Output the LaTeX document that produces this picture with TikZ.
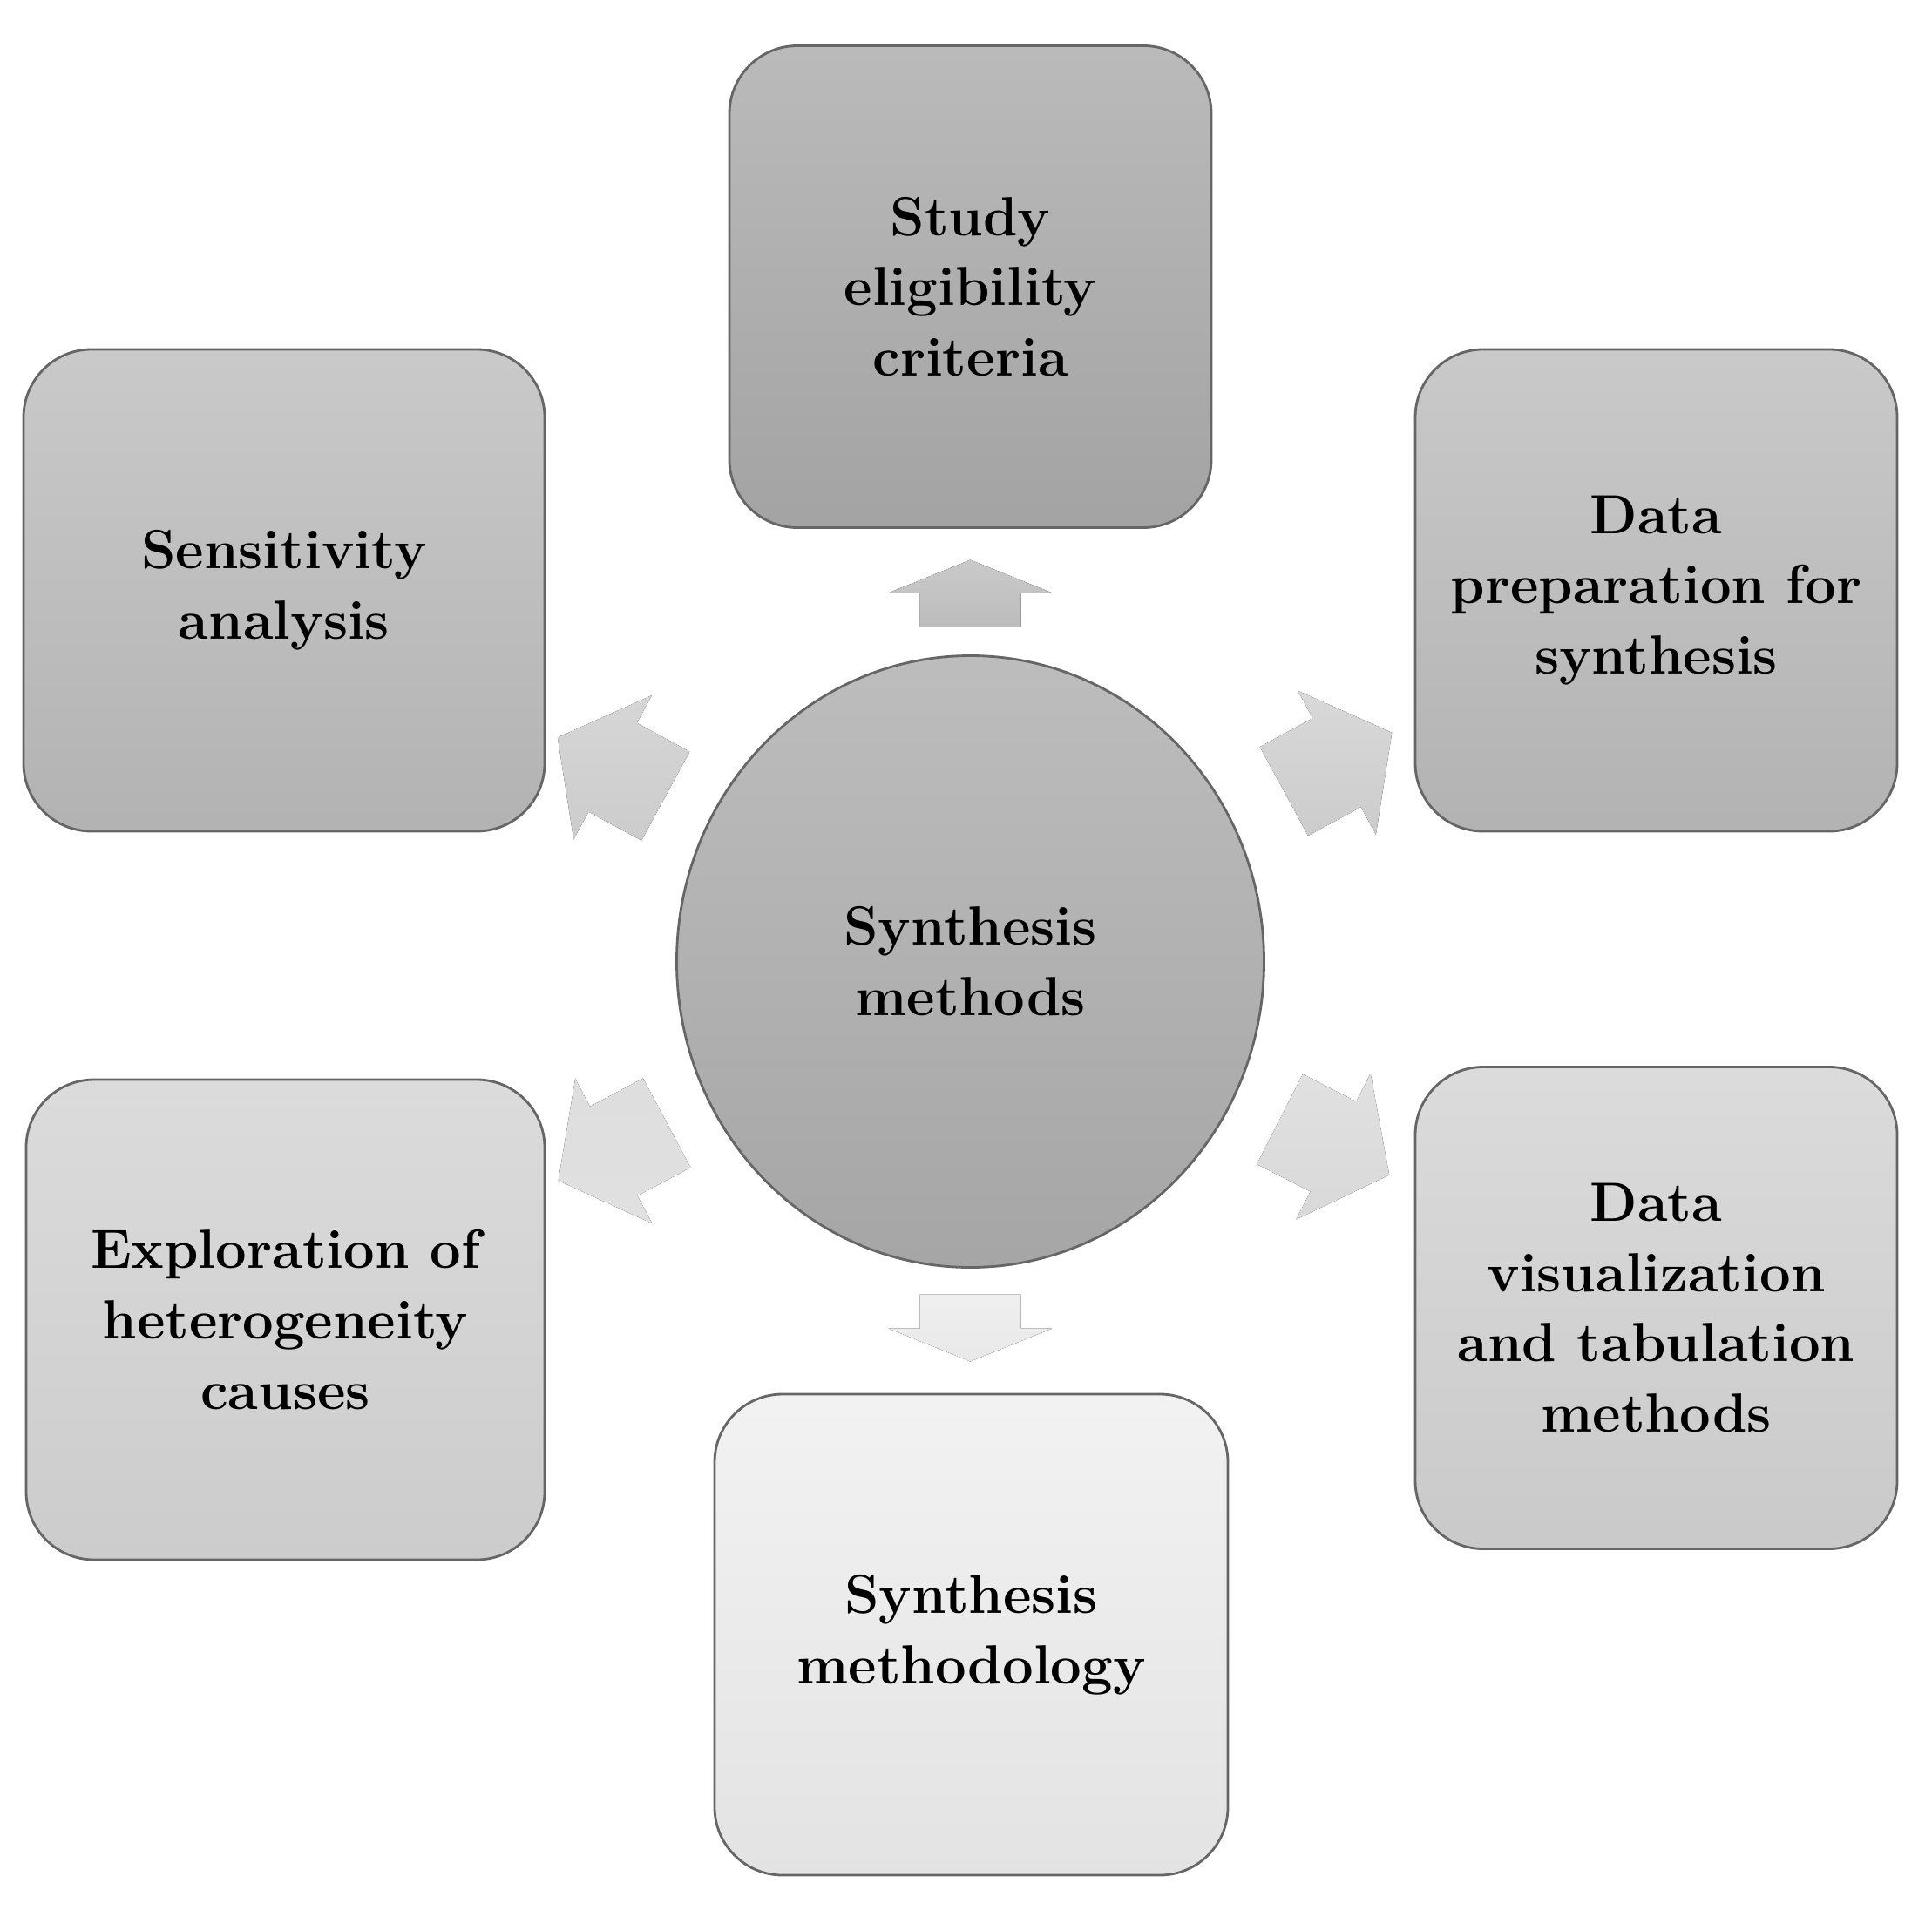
\documentclass[tikz,border=0pt]{standalone}
\usepackage{xcolor}
\usepackage{tikz}
\usetikzlibrary{shapes.geometric}

\begin{document}
\begin{tikzpicture}[box/.style={rectangle, rounded corners=0.78cm, draw=black!60, line width=0.8pt, align=center, inner sep=0pt, minimum width=5.53cm, minimum height=5.53cm, font=\fontsize{18}{23}\selectfont\bfseries},
hub/.style={ellipse, draw=black!60, line width=0.8pt, align=center, inner sep=0pt, minimum width=6.74cm, minimum height=7.02cm, font=\fontsize{18}{23}\selectfont\bfseries}]
\useasboundingbox (0,0) rectangle (22.17,-21.91);

\node[hub, top color=white!74!black, bottom color=white!65!black] (hub) at (11.135,-11.035) {Synthesis\\methods};

\node[box, top color=white!73!black, bottom color=white!64!black] (study) at (11.135,-3.29) {Study\\eligibility\\criteria};
\node[box, minimum width=5.98cm, top color=white!79!black, bottom color=white!70!black] (sens) at (3.26,-6.775) {Sensitivity\\analysis};
\node[box, top color=white!79!black, bottom color=white!70!black] (prep) at (19.005,-6.775) {Data\\preparation for\\synthesis};
\node[box, minimum width=5.95cm, minimum height=5.51cm, top color=white!86!black, bottom color=white!80!black] (expl) at (3.275,-15.145) {Exploration of\\heterogeneity\\causes};
\node[box, top color=white!86!black, bottom color=white!79!black] (vis) at (19.005,-15.01) {Data\\visualization\\and tabulation\\methods};
\node[box, minimum width=5.89cm, minimum height=5.52cm, top color=white!95!black, bottom color=white!89!black] (meth) at (11.145,-18.76) {Synthesis\\methodology};

% block arrows out of the hub
\foreach \ang/\dist/\len/\hd/\tc/\bc in {90/4.225/0.77/0.38/79/74, 151.5/4.685/1.41/0.72/84/80, 28.5/4.8/1.41/0.72/85/80, 208/4.65/1.41/0.72/87/88, -27/4.69/1.41/0.72/88/85, -90/4.205/0.77/0.38/94/91}
{
\begin{scope}[shift={(hub.center)}, rotate=\ang, shift={(\dist,0)}]
\fill[top color=white!\tc!black, bottom color=white!\bc!black] ({-\len/2},-0.58) -- ({\len/2-\hd},-0.58) -- ({\len/2-\hd},-0.94) -- ({\len/2},0) -- ({\len/2-\hd},0.94) -- ({\len/2-\hd},0.58) -- ({-\len/2},0.58) -- cycle;
\end{scope}
}
\end{tikzpicture}
\end{document}
